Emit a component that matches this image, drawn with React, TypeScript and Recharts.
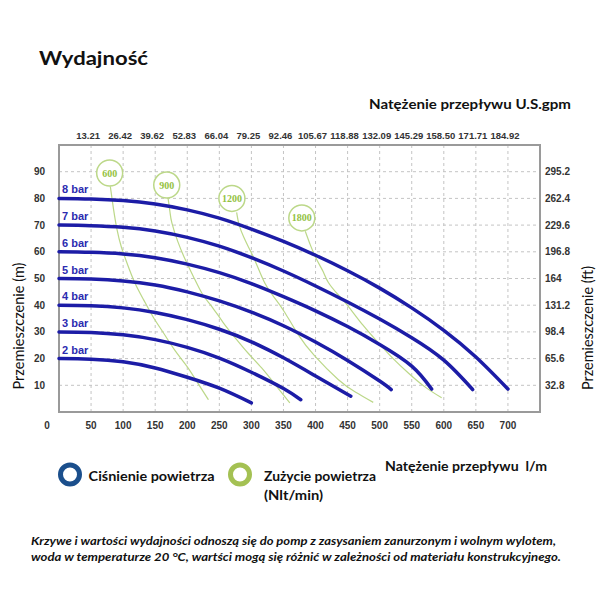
import {
  CartesianGrid,
  Line,
  LineChart,
  ReferenceArea,
  ReferenceDot,
  XAxis,
  YAxis,
} from "recharts";

// osie
const flowTicks = [0, 50, 100, 150, 200, 250, 300, 350, 400, 450, 500, 550, 600, 650, 700];
const gpmTicks = [50, 100, 150, 200, 250, 300, 350, 400, 450, 500, 550, 600, 650, 700];
const gpmLabels = [
  "13.21", "26.42", "39.62", "52.83", "66.04", "79.25", "92.46",
  "105.67", "118.88", "132.09", "145.29", "158.50", "171.71", "184.92",
];
const headTicks = [10, 20, 30, 40, 50, 60, 70, 80, 90];
const ftTicks = [32.8, 65.6, 98.4, 131.2, 164, 196.8, 229.6, 262.4, 295.2];
const ftLabels = ["32.8", "65.6", "98.4", "131.2", "164", "196.8", "229.6", "262.4", "295.2"];

// krzywe ciśnienia powietrza: [l/m, m]
const bar2 = [[0, 20], [50, 19.8], [100, 18.8], [150, 16.5], [200, 13], [250, 8.9], [300, 3.4]];
const bar3 = [[0, 30], [50, 29.8], [100, 28.9], [150, 27.1], [200, 24.2], [250, 20.2], [300, 14.9], [350, 8.8], [377, 4.6]];
const bar4 = [[0, 40], [50, 39.8], [100, 39], [150, 37.3], [200, 34.6], [250, 31], [300, 26.3], [350, 20.3], [400, 13.5], [455, 5.9]];
const bar5 = [[0, 50], [50, 49.8], [100, 49.1], [150, 47.6], [200, 45], [250, 41.6], [300, 37.4], [350, 32.3], [400, 26.2], [450, 19.3], [500, 11.6], [518, 8.4]];
const bar6 = [[0, 60], [50, 59.8], [100, 59.2], [150, 57.8], [200, 55.4], [250, 52.2], [300, 48.1], [350, 43.2], [400, 37.9], [450, 32], [500, 25.3], [550, 17.2], [581, 8.6]];
const bar7 = [[0, 70], [50, 69.8], [100, 69.2], [150, 67.8], [200, 65.4], [250, 62.1], [300, 57.8], [350, 52.8], [400, 47.2], [450, 41.2], [500, 34.8], [550, 27.8], [600, 19.4], [645, 8.4]];
const bar8 = [[0, 80], [50, 79.8], [100, 79.2], [150, 77.9], [200, 75.7], [250, 72.6], [300, 68.5], [350, 63.9], [400, 58.7], [450, 52.9], [500, 46.4], [550, 39], [600, 30.6], [650, 20.6], [700, 8.6]];

// zużycie powietrza (Nlt/min): [l/m, m]
const air600 = [[80, 84.5], [85, 76], [90.5, 68.3], [97, 62], [106, 55.8], [118, 48.5], [132, 42], [147, 35.5], [163, 29.6], [181, 23], [199.5, 17.1], [216, 11], [233, 4.6]];
const air900 = [[170, 80.2], [173, 75], [176, 70.8], [185, 64], [197, 57], [210, 50.5], [224, 44], [238, 39.6], [256, 33.5], [275, 27.7], [295, 22], [316, 16.5], [338, 10], [360, 3.4]];
const air1200 = [[277, 74.8], [281, 70], [288, 65.5], [295, 62], [306, 56.5], [321.5, 48], [337, 42.5], [352.6, 37.1], [373, 29], [399, 20.9], [435.7, 12.1], [462, 7.5], [490, 3.6]];
const air1800 = [[384, 67.7], [392, 62.5], [402, 57], [412, 52.5], [420, 48.5], [435, 44], [451, 39.6], [474, 32.5], [498, 25.9], [521, 20], [544.7, 14.6], [570, 9.5], [596.7, 5.3]];

// etykiety w kółkach: [l/m, m]
const airBadges = [
  { name: "600", at: [79, 89.5] },
  { name: "900", at: [168, 85] },
  { name: "1200", at: [269.6, 80] },
  { name: "1800", at: [378.6, 72.7] },
];

const pressureCurves = [
  { name: "8 bar", points: bar8 },
  { name: "7 bar", points: bar7 },
  { name: "6 bar", points: bar6 },
  { name: "5 bar", points: bar5 },
  { name: "4 bar", points: bar4 },
  { name: "3 bar", points: bar3 },
  { name: "2 bar", points: bar2 },
];
const airCurves = [
  { name: "600", points: air600 },
  { name: "900", points: air900 },
  { name: "1200", points: air1200 },
  { name: "1800", points: air1800 },
];

const toPoints = (pts: number[][]) => pts.map(([x, y]) => ({ x, y }));
// niewidoczna seria, żeby osie gpm i ft się narysowały
const unitAnchor = gpmTicks.map((x, i) => ({ x, y: ftTicks[i % ftTicks.length] }));

const BLUE = "#1c1ca6";
const GREEN_LINE = "#bcd889";
const GREEN_TEXT = "#93c23f";
const TICK = { fill: "#333", fontSize: 10, fontWeight: 700, fontFamily: "'Liberation Sans', Arial, sans-serif" };
const CAL = "Lato, 'Open Sans', sans-serif";

function BottomTick(props: any) {
  const { x, y, payload } = props;
  return (
    <text x={payload.value === 0 ? x - 12 : x} y={y} dy="0.71em" textAnchor="middle" {...TICK}>
      {payload.value}
    </text>
  );
}

function TopTick(props: any) {
  const { x, y, index } = props;
  return (
    <text x={x - 3} y={y} textAnchor="middle" {...TICK} fontSize={9.5}>
      {gpmLabels[index]}
    </text>
  );
}

function barLabel(name: string) {
  return (props: any) => {
    if (props.index !== 0) return <g />;
    return (
      <text x={props.x + 3} y={props.y - 5} fill="#2b2bb0" fontSize={11} fontWeight={700} fontFamily="'Liberation Sans', Arial, sans-serif">
        {name}
      </text>
    );
  };
}

export default function App() {
  return (
    <div style={{ position: "absolute", left: 0, top: 0, width: 600, height: 600, background: "#fff" }}>
      <LineChart width={600} height={440} margin={{ top: 115, right: 10, bottom: 0, left: 0 }}>
        <XAxis xAxisId="lpm" dataKey="x" type="number" domain={[0, 750]} ticks={flowTicks} interval={0}
          height={28} axisLine={false} tickLine={false} tickSize={6} tickMargin={4} tick={<BottomTick />} />
        <XAxis xAxisId="gpm" dataKey="x" orientation="top" type="number" domain={[0, 750]} ticks={gpmTicks} interval={0}
          height={30} axisLine={false} tickLine={false} tickSize={4} tickMargin={2} tick={<TopTick />} />
        <YAxis yAxisId="m" type="number" domain={[0, 100]} ticks={headTicks} interval={0} width={59}
          axisLine={false} tickLine={false} tickMargin={8} tick={TICK} />
        <YAxis yAxisId="ft" orientation="right" type="number" domain={[0, 328]} ticks={ftTicks} interval={0}
          tickFormatter={(_v: number, i: number) => ftLabels[i]} width={50} axisLine={false} tickLine={false}
          tickSize={3} tickMargin={2} tick={TICK} />
        <CartesianGrid xAxisId="lpm" yAxisId="m" strokeDasharray="3 3" stroke="#c4c4c4" />
        <Line xAxisId="gpm" yAxisId="ft" data={unitAnchor} dataKey="y" stroke="#fff" strokeOpacity={0}
          dot={false} activeDot={false} isAnimationActive={false} />
        {airCurves.map((c) => (
          <Line key={c.name} xAxisId="lpm" yAxisId="m" data={toPoints(c.points)} dataKey="y" type="natural"
            stroke={GREEN_LINE} strokeWidth={1.2} dot={false} activeDot={false} isAnimationActive={false} />
        ))}
        {pressureCurves.map((c) => (
          <Line key={c.name} xAxisId="lpm" yAxisId="m" data={toPoints(c.points)} dataKey="y" type="natural"
            stroke={BLUE} strokeWidth={3.5} strokeLinecap="round" dot={false} activeDot={false}
            isAnimationActive={false} label={barLabel(c.name)} />
        ))}
        {airBadges.map((b) => (
          <ReferenceDot key={b.name} xAxisId="lpm" yAxisId="m" x={b.at[0]} y={b.at[1]} r={13}
            fill="#fff" stroke={GREEN_LINE} strokeWidth={1.5}
            label={{ value: b.name, position: "center", fill: GREEN_TEXT, fontSize: 10, fontWeight: 700 }} />
        ))}
        <ReferenceArea xAxisId="lpm" yAxisId="m" x1={0} x2={750} y1={0} y2={100}
          fill="#fff" fillOpacity={0} stroke="#9a9a9a" strokeWidth={2} />
      </LineChart>

      <svg width={600} height={600} style={{ position: "absolute", left: 0, top: 0, pointerEvents: "none" }}
        fontFamily={CAL} fill="#111">
        <text x={39} y={65} fontSize={18} fontWeight={700} textLength={109} lengthAdjust="spacingAndGlyphs">Wydajność</text>
        <text x={369} y={109} fontSize={14} fontWeight={700} textLength={202} lengthAdjust="spacingAndGlyphs">
          Natężenie przepływu U.S.gpm
        </text>
        <text transform="translate(24, 326) rotate(-90)" textAnchor="middle" fontSize={15}
          textLength={127} lengthAdjust="spacingAndGlyphs">Przemieszczenie (m)</text>
        <text transform="translate(593, 328) rotate(-90)" textAnchor="middle" fontSize={15}
          textLength={124} lengthAdjust="spacingAndGlyphs">Przemieszczenie (ft)</text>

        <circle cx={70} cy={474.5} r={9.5} fill="none" stroke="#1b4f8c" strokeWidth={5} />
        <text x={88.6} y={481} fontSize={14} fontWeight={700} textLength={126} lengthAdjust="spacingAndGlyphs">
          Ciśnienie powietrza
        </text>
        <circle cx={240} cy={474.5} r={9.5} fill="none" stroke="#a4c153" strokeWidth={5} />
        <text x={264} y={481} fontSize={14} fontWeight={700} textLength={112} lengthAdjust="spacingAndGlyphs">
          Zużycie powietrza
        </text>
        <text x={264} y={500} fontSize={14} fontWeight={700} textLength={59} lengthAdjust="spacingAndGlyphs">
          (Nlt/min)
        </text>
        <text x={385} y={471} fontSize={14} fontWeight={700} textLength={162} lengthAdjust="spacingAndGlyphs"
          style={{ whiteSpace: "pre" }}>
          {"Natężenie przepływu  l/m"}
        </text>

        <text x={31} y={545} fontSize={11} fontWeight={700} fontStyle="italic" textLength={525} lengthAdjust="spacingAndGlyphs">
          Krzywe i wartości wydajności odnoszą się do pomp z zasysaniem zanurzonym i wolnym wylotem,
        </text>
        <text x={31} y={561} fontSize={11} fontWeight={700} fontStyle="italic" textLength={530} lengthAdjust="spacingAndGlyphs">
          woda w temperaturze 20 °C, wartści mogą się różnić w zależności od materiału konstrukcyjnego.
        </text>
      </svg>
    </div>
  );
}
